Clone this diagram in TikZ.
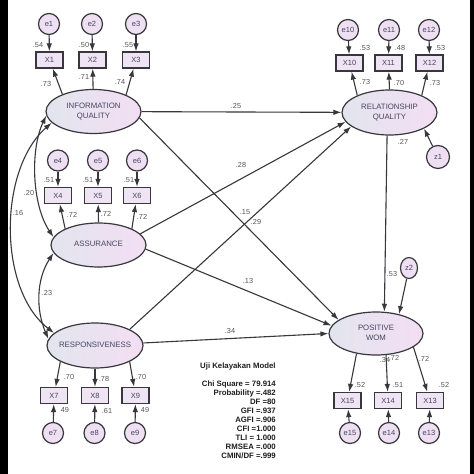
\documentclass[tikz,border=0pt]{standalone}
\usepackage{fontspec}
\setmainfont{Liberation Sans}
\usetikzlibrary{shapes.geometric,arrows.meta}
\definecolor{lc}{RGB}{55,55,60}
\definecolor{boxfill}{RGB}{238,228,244}
\definecolor{errfill}{RGB}{238,224,242}
\definecolor{latL}{RGB}{226,229,238}
\definecolor{latR}{RGB}{243,222,243}
\definecolor{txt}{RGB}{70,70,95}
\definecolor{num}{RGB}{85,85,85}
\definecolor{fittxt}{RGB}{30,30,30}
\newcommand\lattext[1]{\makebox[0pt]{\begin{tabular}{@{}c@{}}#1\end{tabular}}}
\begin{document}
\begin{tikzpicture}[x=1pt,y=-1pt,
 lat/.style={ellipse,draw=lc,line width=1.2pt,left color=latL,right color=latR,minimum width=95pt,minimum height=44pt,inner sep=0pt,font=\fontsize{7.8}{9.5}\selectfont,text=txt},
 obs/.style={rectangle,draw=lc,line width=1.2pt,fill=boxfill,minimum width=27pt,minimum height=16pt,inner sep=0pt,font=\fontsize{7.5}{8}\selectfont,text=txt},
 err/.style={circle,draw=lc,line width=1.2pt,fill=errfill,minimum size=21pt,inner sep=0pt,font=\fontsize{7.5}{8}\selectfont,text=txt},
 lbl/.style={font=\fontsize{7.3}{8}\selectfont,text=num,inner sep=0pt},
 arr/.style={draw=lc,line width=1.1pt,-{Latex[length=8pt,width=5.5pt]}},
 cov/.style={draw=lc,line width=1.1pt,{Latex[length=8pt,width=5.5pt]}-{Latex[length=8pt,width=5.5pt]}},
 fit/.style={font=\fontsize{7.8}{9}\selectfont\bfseries,text=fittxt,inner sep=0pt}
]
\useasboundingbox (0,0) rectangle (474,474);
\fill[white] (0,0) rectangle (474,474);
\fill[black] (0,0) rectangle (8,474);
\fill[black] (470,0) rectangle (474,474);

% latent variables
\node[lat] (info) at (93.5,111.5) {\lattext{INFORMATION\\QUALITY}};
\node[lat] (assur) at (98.5,245) {\lattext{ASSURANCE}};
\node[lat,minimum width=96pt,minimum height=45pt] (resp) at (95,345.5) {\lattext{RESPONSIVENESS}};
\node[lat,minimum height=45pt] (rq) at (389.5,112.5) {\lattext{RELATIONSHIP\\QUALITY}};
\node[lat,minimum width=94pt,minimum height=43pt] (wom) at (376,333.5) {\lattext{POSITIVE\\WOM}};

% observed
\node[obs] (x1) at (49.5,60) {X1};
\node[obs] (x2) at (92.5,60) {X2};
\node[obs] (x3) at (136,60) {X3};
\node[obs] (x4) at (58,195.5) {X4};
\node[obs] (x5) at (98,195.5) {X5};
\node[obs] (x6) at (137,195.5) {X6};
\node[obs] (x7) at (54,395.5) {X7};
\node[obs] (x8) at (95,395.5) {X8};
\node[obs] (x9) at (135.5,395.5) {X9};
\node[obs] (x10) at (349.5,63) {X10};
\node[obs] (x11) at (388.5,63) {X11};
\node[obs] (x12) at (429.5,63) {X12};
\node[obs] (x15) at (347.5,400.5) {X15};
\node[obs] (x14) at (388,400.5) {X14};
\node[obs] (x13) at (430,400.5) {X13};

% errors
\node[err] (e1) at (49,24) {e1};
\node[err] (e2) at (92,24) {e2};
\node[err] (e3) at (136,24) {e3};
\node[err] (e4) at (58,160.5) {e4};
\node[err] (e5) at (98,160.5) {e5};
\node[err] (e6) at (137,160.5) {e6};
\node[err] (e7) at (53,433) {e7};
\node[err] (e8) at (94.5,433) {e8};
\node[err] (e9) at (135,433) {e9};
\node[err] (e10) at (348,30) {e10};
\node[err] (e11) at (389,30) {e11};
\node[err] (e12) at (429,30) {e12};
\node[err] (e15) at (350,433) {e15};
\node[err] (e14) at (389,433) {e14};
\node[err] (e13) at (429,433) {e13};
\node[err,minimum size=23pt] (z1) at (438,157) {z1};
\node[err,ellipse,minimum width=17pt,minimum height=21pt] (z2) at (409,268) {z2};

% error arrows
\foreach \i in {1,...,15} \draw[arr] (e\i) -- (x\i);
\draw[arr] (z1) -- (rq.-25);
\draw[arr] (z2) -- (wom.40);

% loadings
\draw[arr] (info.151) -- (x1);
\draw[arr] (info.91) -- (x2);
\draw[arr] (info.27) -- (x3);
\draw[arr] (assur.154) -- (x4);
\draw[arr] (assur.north) -- (x5);
\draw[arr] (assur.26) -- (x6);
\draw[arr] (resp.205) -- (x7);
\draw[arr] (resp.south) -- (x8);
\draw[arr] (resp.335) -- (x9);
\draw[arr] (rq.152) -- (x10);
\draw[arr] (rq.north) -- (x11);
\draw[arr] (rq.28) -- (x12);
\draw[arr] (wom.226) -- (x15);
\draw[arr] (wom.295) -- (x14);
\draw[arr] (wom.340) -- (x13);

% structural paths
\draw[arr] (info) -- (rq);
\draw[arr] (info.-8) -- (wom.160);
\draw[arr] (assur.15) -- (rq.192);
\draw[arr] (assur.-5) -- (wom.170);
\draw[arr] (resp.25) -- (rq.200);
\draw[arr] (resp.3) -- (wom.180);
\draw[arr] (rq.264) -- (wom.69);

% covariances
\draw[cov] (info.185) .. controls (30,150) and (32,205) .. (assur.170);
\draw[cov] (info.195) .. controls (-2,170) and (-2,290) .. (resp.163);
\draw[cov] (assur.190) .. controls (36,280) and (36,310) .. (resp.172);

% labels
\node[lbl] at (38,45) {.54};
\node[lbl] at (84,45) {.50};
\node[lbl] at (128,45) {.55};
\node[lbl] at (46,84) {.73};
\node[lbl] at (84,77) {.71};
\node[lbl] at (120,82) {.74};
\node[lbl] at (49,180) {.51};
\node[lbl] at (88,180) {.51};
\node[lbl] at (129,180) {.51};
\node[lbl] at (72,215) {.72};
\node[lbl] at (106,214) {.72};
\node[lbl] at (142,217) {.72};
\node[lbl] at (69,377) {.70};
\node[lbl] at (104,379) {.78};
\node[lbl] at (141,377) {.70};
\node[lbl] at (65,410) {49};
\node[lbl] at (107,411) {.61};
\node[lbl] at (145,410) {49};
\node[lbl] at (365,48) {.53};
\node[lbl] at (400,48) {.48};
\node[lbl] at (440,48) {.53};
\node[lbl] at (365,82) {.73};
\node[lbl] at (399,83) {.70};
\node[lbl] at (435,83) {.73};
\node[lbl] at (403,142) {.27};
\node[lbl] at (385,360) {.34};
\node[lbl] at (394,358) {.72};
\node[lbl] at (424,359) {.72};
\node[lbl] at (360,385) {.52};
\node[lbl] at (398,385) {.51};
\node[lbl] at (444,385) {.52};
\node[lbl] at (236,106) {.25};
\node[lbl] at (241,165) {.28};
\node[lbl] at (245,212) {.15};
\node[lbl] at (256,222) {.29};
\node[lbl] at (248,281) {.13};
\node[lbl] at (230,331) {.34};
\node[lbl] at (392,274) {.53};
\node[lbl] at (29,193) {.20};
\node[lbl] at (18,213) {.16};
\node[lbl] at (47,293) {.23};

% fit statistics
\node[fit,anchor=west] (fittitle) at (200,366) {Uji Kelayakan Model};
\node[fit,anchor=north east,align=right] (fitstats) at (276,381) {Chi Square = 79.914\\Probability =.482\\DF =80\\GFI =.937\\AGFI =.906\\CFI =1.000\\TLI = 1.000\\RMSEA =.000\\CMIN/DF =.999};
\end{tikzpicture}
\end{document}
